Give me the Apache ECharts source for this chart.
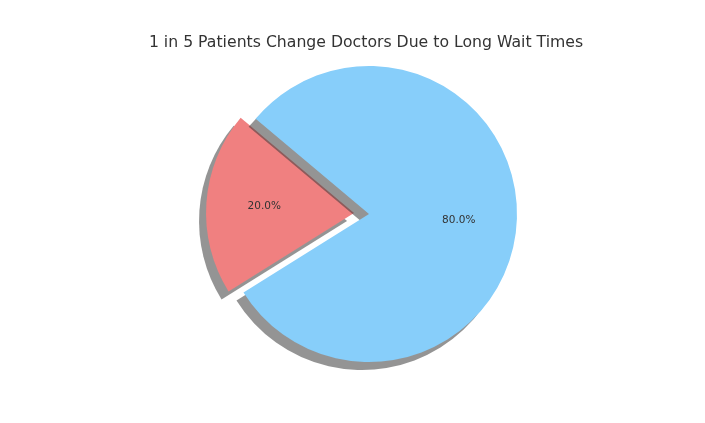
<!DOCTYPE html>
<html>
<head>
<meta charset="utf-8">
<script src="https://cdn.jsdelivr.net/npm/echarts@6/dist/echarts.min.js"></script>
<style>html,body{margin:0;padding:0;background:#fff}#c{width:705px;height:423px}</style>
</head>
<body>
<div id="c"></div>
<script>
// slices in drawing order, matplotlib style (startangle 140, counterclockwise)
var categories = ['Changed Doctors', 'Did Not Change'];
var values = [20, 80];
var colors = ['#f08080', '#87cefa'];

var myChart = echarts.init(document.getElementById('c'));
var base = {
    type: 'pie',
    center: [369, 214],
    startAngle: 140,
    clockwise: false,
    selectedMode: 'multiple',
    selectedOffset: 15,
    labelLine: {show: false},
    emphasis: {disabled: true}
};
var option = {
    animation: false,
    title: {
        text: '1 in 5 Patients Change Doctors Due to Long Wait Times',
        left: 361, top: 30, textAlign: 'center',
        textStyle: {fontSize: 15.7, fontWeight: 'normal', color: '#333', fontFamily: 'DejaVu Sans'}
    },
    series: [
        Object.assign({}, base, {
            radius: [0, 148],
            label: {show: false},
            itemStyle: {shadowColor: 'rgba(60,60,60,0.55)', shadowOffsetX: -7, shadowOffsetY: 8, shadowBlur: 0},
            data: categories.map(function (name, i) {
                return {name: name, value: values[i], selected: i === 0, itemStyle: {color: colors[i]}};
            })
        }),
        // label-only layer so the percentages sit at ~0.6 of the radius
        Object.assign({}, base, {
            radius: [0, 174],
            silent: true,
            itemStyle: {color: 'rgba(0,0,0,0)'},
            label: {
                show: true, position: 'inside', color: '#333', fontSize: 10.5,
                fontFamily: 'DejaVu Sans',
                formatter: function (p) { return p.percent.toFixed(1) + '%'; }
            },
            data: categories.map(function (name, i) {
                return {name: name, value: values[i], selected: i === 0};
            })
        })
    ]
};
myChart.setOption(option);
</script>
</body>
</html>
